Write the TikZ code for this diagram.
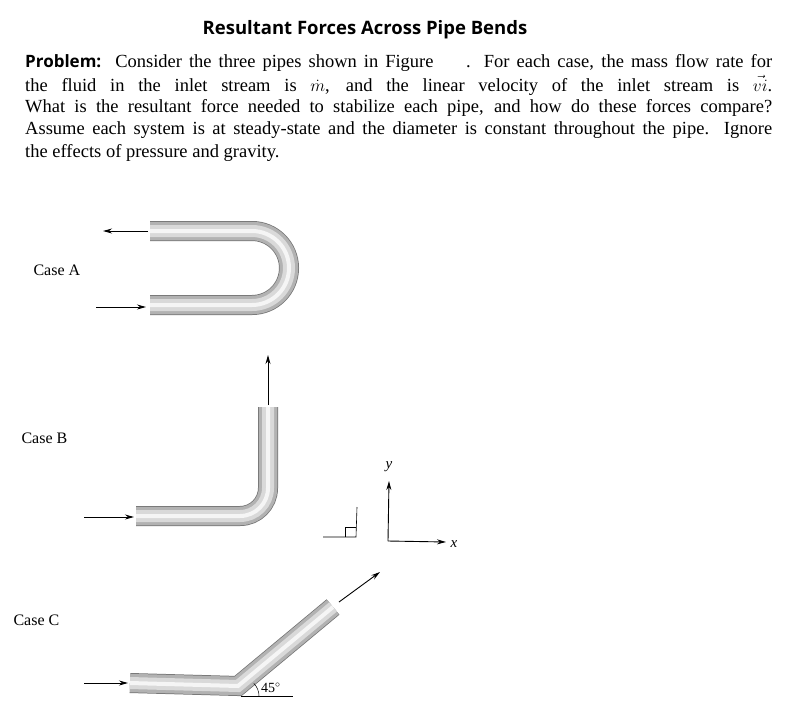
\documentclass[tikz,border=0pt]{standalone}
\usepackage{fontspec}
\setmainfont{Liberation Serif}
\newfontfamily\titlefont{Open Sans}
\usetikzlibrary{arrows.meta}
\tikzset{
 flow/.style={-{Stealth[length=9pt,width=5pt]},line width=0.9pt},
 lbl/.style={anchor=west,font=\fontsize{16}{18}\selectfont},
 para/.style={anchor=west,inner sep=0pt,font=\fontsize{18.5}{21}\selectfont},
 pipeA/.style={line width=20pt,draw=black!55},
 pipeB/.style={line width=18.5pt,draw=gray!60},
 pipeC/.style={line width=12pt,draw=gray!30},
 pipeD/.style={line width=4pt,draw=gray!8}
}
\newcommand{\mypipe}[1]{%
 \draw[pipeA] #1; \draw[pipeB] #1; \draw[pipeC] #1; \draw[pipeD] #1;}
\begin{document}
\begin{tikzpicture}[x=1pt,y=-1pt]
\useasboundingbox (0,0) rectangle (796,716);
\node[font=\titlefont\bfseries\fontsize{18.5}{21}\selectfont] (title) at (365,30) {Resultant Forces Across Pipe Bends};
\node[para] (l1) at (25,63) {\makebox[747pt][s]{{\titlefont\bfseries\fontsize{17}{19}\selectfont Problem:}\ \ Consider the three pipes shown in Figure \quad\ . For each case, the mass flow rate for}};
\node[para] (l2) at (25,85.5) {\makebox[747pt][s]{the fluid in the inlet stream is $\dot m$, and the linear velocity of the inlet stream is $\vec{vi}$.}};
\node[para] (l3) at (25,108) {\makebox[747pt][s]{What is the resultant force needed to stabilize each pipe, and how do these forces compare?}};
\node[para] (l4) at (25,130.5) {\makebox[747pt][s]{Assume each system is at steady-state and the diameter is constant throughout the pipe. Ignore}};
\node[para] (l5) at (25,153) {the effects of pressure and gravity.};

% Case A
\mypipe{(150,231) -- (252,231) arc[start angle=-90,end angle=90,radius=37] -- (150,305)}
\coordinate (aout) at (148,231); \coordinate (aoutE) at (103,231);
\coordinate (ainS) at (96,307); \coordinate (ain) at (146,307);
\draw[flow] (aout) -- (aoutE);
\draw[flow] (ainS) -- (ain);
\node[lbl] (ca) at (30,270) {Case A};

% Case B
\mypipe{(268,407) -- (268,488) arc[start angle=0,end angle=90,radius=28] -- (136,516)}
\coordinate (bout) at (268,405); \coordinate (boutE) at (268,355);
\coordinate (binS) at (84,517); \coordinate (bin) at (134,517);
\draw[flow] (bout) -- (boutE);
\draw[flow] (binS) -- (bin);
\node[lbl] (cb) at (18,438) {Case B};

% Case C
\mypipe{(130,683) -- (238,686) -- (333,607)}
\coordinate (cout) at (339,602); \coordinate (coutE) at (380,572);
\coordinate (cinS) at (84,683); \coordinate (cin) at (128,683);
\draw[flow] (cout) -- (coutE);
\draw[flow] (cinS) -- (cin);
\node[lbl] (cc) at (10,620) {Case C};
\coordinate (ang) at (241,696);
\draw[line width=0.5pt] (ang) -- ++(52,0);
\draw[line width=0.5pt] (ang) ++(18,0) arc[start angle=0,end angle=-45,radius=18];
\node[anchor=west,font=\fontsize{14}{16}\selectfont,inner sep=1pt] (deg) at (260,688) {45$^\circ$};

% right-angle mark
\coordinate (rc) at (356,537);
\draw[line width=0.6pt] (323,537) -- (rc) -- (357,507);
\draw[line width=0.6pt] (345,537) -- (345,527) -- (356,527);

% axes
\coordinate (o) at (388,541);
\coordinate (yE) at (389,481); \coordinate (xE) at (446,542);
\draw[flow] (o) -- (yE);
\draw[flow] (o) -- (xE);
\node[font=\itshape\fontsize{15}{17}\selectfont] (ylab) at (389,467) {y};
\node[font=\itshape\fontsize{15}{17}\selectfont] (xlab) at (454,544) {x};
\end{tikzpicture}
\end{document}
